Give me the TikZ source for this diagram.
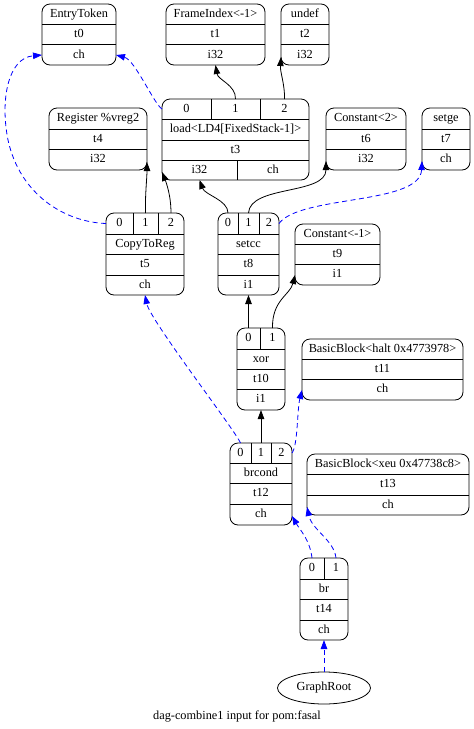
\documentclass[tikz,border=0pt]{standalone}
\usepackage{fontspec}
\setmainfont{Liberation Serif}
\usetikzlibrary{arrows.meta, shapes.geometric}

\tikzset{
  rec/.style={draw, rounded corners=8pt, inner sep=0pt, outer sep=0pt, line width=0.8pt},
  cell/.style={inner sep=0pt, text height=8.6pt, text depth=2.6pt},
  data/.style={line width=0.8pt, -{Triangle[length=9pt,width=6.5pt]}},
  ctrl/.style={data, blue, dash pattern=on 5pt off 3.5pt},
}
% frame of a record: name, left, top, right, bottom
\newcommand{\recframe}[5]{\node[rec, minimum width={(#4-#2)*1pt}, minimum height={(#5-#3)*1pt}] (#1) at ({(#2+#4)/2},{(#3+#5)/2}) {};}
% row line across a record
\newcommand{\rowsep}[2]{\draw[line width=0.8pt] (#1.west |- 0,#2) -- (#1.east |- 0,#2);}
% column line inside a row
\newcommand{\colsep}[3]{\draw[line width=0.8pt] (#1,#2) -- (#1,#3);}

\begin{document}
\begin{tikzpicture}[x=1pt, y=-1pt, font=\fontsize{12.3}{14}\selectfont]
    \useasboundingbox (0,0) rectangle (474,729);

    % t0
    \recframe{entry}{42}{4}{116}{65}
    \rowsep{entry}{24} \rowsep{entry}{44}
    \node[cell] (entry-n) at (79,14) {EntryToken};
    \node[cell] (entry-t) at (79,34) {t0};
    \node[cell] (entry-ch) at (79,55) {ch};

    % t1
    \recframe{fidx}{166}{4}{265}{65}
    \rowsep{fidx}{24} \rowsep{fidx}{44}
    \node[cell] (fidx-n) at (215.5,14) {FrameIndex<-1>};
    \node[cell] (fidx-t) at (215.5,34) {t1};
    \node[cell] (fidx-i32) at (215.5,55) {i32};

    % t2
    \recframe{undef}{281}{4}{329}{65}
    \rowsep{undef}{24} \rowsep{undef}{44}
    \node[cell] (undef-n) at (305,14) {undef};
    \node[cell] (undef-t) at (305,34) {t2};
    \node[cell] (undef-i32) at (305,55) {i32};

    % t3
    \recframe{load}{162}{99}{309}{180}
    \rowsep{load}{119} \rowsep{load}{140} \rowsep{load}{160}
    \colsep{211}{99}{119} \colsep{260}{99}{119} \colsep{237}{160}{180}
    \node[cell] (load-0) at (186.5,109) {0};
    \node[cell] (load-1) at (235.5,109) {1};
    \node[cell] (load-2) at (284.5,109) {2};
    \node[cell] (load-n) at (235.5,129.5) {load<LD4[FixedStack-1]>};
    \node[cell] (load-t) at (235.5,150) {t3};
    \node[cell] (load-i32) at (199.5,170) {i32};
    \node[cell] (load-ch) at (273,170) {ch};

    % t4
    \recframe{reg}{49}{108}{147}{170}
    \rowsep{reg}{129} \rowsep{reg}{149}
    \node[cell] (reg-n) at (98,118.5) {Register \%vreg2};
    \node[cell] (reg-t) at (98,139) {t4};
    \node[cell] (reg-i32) at (98,159.5) {i32};

    % t6
    \recframe{cst}{326}{108}{406}{170}
    \rowsep{cst}{129} \rowsep{cst}{149}
    \node[cell] (cst-n) at (366,118.5) {Constant<2>};
    \node[cell] (cst-t) at (366,139) {t6};
    \node[cell] (cst-i32) at (366,159.5) {i32};

    % t7
    \recframe{cond}{422}{108}{470}{170}
    \rowsep{cond}{129} \rowsep{cond}{149}
    \node[cell] (cond-n) at (446,118.5) {setge};
    \node[cell] (cond-t) at (446,139) {t7};
    \node[cell] (cond-ch) at (446,159.5) {ch};

    % t5
    \recframe{copy}{106}{213}{184}{295}
    \rowsep{copy}{234} \rowsep{copy}{254} \rowsep{copy}{275}
    \colsep{133}{213}{234} \colsep{158}{213}{234}
    \node[cell] (copy-0) at (119.5,223.5) {0};
    \node[cell] (copy-1) at (145.5,223.5) {1};
    \node[cell] (copy-2) at (171,223.5) {2};
    \node[cell] (copy-n) at (145,244) {CopyToReg};
    \node[cell] (copy-t) at (145,264.5) {t5};
    \node[cell] (copy-ch) at (145,285) {ch};

    % t8
    \recframe{setcc}{218}{213}{279}{295}
    \rowsep{setcc}{234} \rowsep{setcc}{254} \rowsep{setcc}{275}
    \colsep{238}{213}{234} \colsep{259}{213}{234}
    \node[cell] (setcc-0) at (228,223.5) {0};
    \node[cell] (setcc-1) at (248.5,223.5) {1};
    \node[cell] (setcc-2) at (269,223.5) {2};
    \node[cell] (setcc-n) at (248.5,244) {setcc};
    \node[cell] (setcc-t) at (248.5,264.5) {t8};
    \node[cell] (setcc-i1) at (248.5,285) {i1};

    % t9
    \recframe{cmone}{295}{224}{380}{285}
    \rowsep{cmone}{244} \rowsep{cmone}{264}
    \node[cell] (cmone-n) at (337.5,234) {Constant<-1>};
    \node[cell] (cmone-t) at (337.5,254) {t9};
    \node[cell] (cmone-i1) at (337.5,274.5) {i1};

    % t10
    \recframe{xor}{237}{328}{285}{410}
    \rowsep{xor}{349} \rowsep{xor}{369} \rowsep{xor}{389}
    \colsep{260.5}{328}{349}
    \node[cell] (xor-0) at (248.5,338.5) {0};
    \node[cell] (xor-1) at (272.5,338.5) {1};
    \node[cell] (xor-n) at (261,359) {xor};
    \node[cell] (xor-t) at (261,379) {t10};
    \node[cell] (xor-i1) at (261,399.5) {i1};

    % t11
    \recframe{halt}{302}{339}{463}{400}
    \rowsep{halt}{359} \rowsep{halt}{379}
    \node[cell] (halt-n) at (382.5,349) {BasicBlock<halt 0x4773978>};
    \node[cell] (halt-t) at (382.5,369) {t11};
    \node[cell] (halt-ch) at (382.5,389.5) {ch};

    % t12
    \recframe{brcond}{230}{443}{292}{525}
    \rowsep{brcond}{463} \rowsep{brcond}{483} \rowsep{brcond}{504}
    \colsep{251}{443}{463} \colsep{271}{443}{463}
    \node[cell] (brcond-0) at (240.5,453) {0};
    \node[cell] (brcond-1) at (261,453) {1};
    \node[cell] (brcond-2) at (281.5,453) {2};
    \node[cell] (brcond-n) at (261,473) {brcond};
    \node[cell] (brcond-t) at (261,493.5) {t12};
    \node[cell] (brcond-ch) at (261,514.5) {ch};

    % t13
    \recframe{xeu}{307}{454}{469}{515}
    \rowsep{xeu}{474} \rowsep{xeu}{495}
    \node[cell] (xeu-n) at (388,464) {BasicBlock<xeu 0x47738c8>};
    \node[cell] (xeu-t) at (388,484.5) {t13};
    \node[cell] (xeu-ch) at (388,505) {ch};

    % t14
    \recframe{br}{300}{558}{348}{640}
    \rowsep{br}{579} \rowsep{br}{599} \rowsep{br}{620}
    \colsep{324}{558}{579}
    \node[cell] (br-0) at (312,568.5) {0};
    \node[cell] (br-1) at (336,568.5) {1};
    \node[cell] (br-n) at (324,589) {br};
    \node[cell] (br-t) at (324,609.5) {t14};
    \node[cell] (br-ch) at (324,630) {ch};

    \node[draw, ellipse, line width=0.8pt, minimum width=93pt, minimum height=32pt, inner sep=0pt] (root) at (324,688) {GraphRoot};
    \node[cell] (title) at (237,716) {dag-combine1 input for pom:fasal};

    % operand edges
    \draw[ctrl] (load.west |- load-0) .. controls (154,104) and (135,60) .. (entry.east |- entry-ch);
    \draw[data] (load.north -| load-1) .. controls (236,85) and (218,80) .. (fidx.south);
    \draw[data] (load.north -| load-2) .. controls (285,85) and (280,72) .. ([yshift=8pt]undef.south west);
    \draw[ctrl] (copy.west |- copy-0) .. controls (65,222) and (20,195) .. (8,140) .. controls (0,100) and (8,58) .. (entry.west |- entry-ch);
    \draw[data] (copy.north -| copy-1) .. controls (145,195) and (147,178) .. ([yshift=8pt]reg.south east);
    \draw[data] (copy.north -| copy-2) .. controls (171,195) and (166,182) .. ([yshift=8pt]load.south west);
    \draw[data] (setcc.north -| setcc-0) .. controls (228,200) and (205,195) .. (load.south -| load-i32);
    \draw[data] (setcc.north -| setcc-1) .. controls (250,185) and (326,195) .. ([yshift=9pt]cst.south west);
    \draw[ctrl] (setcc.east |- setcc-2) .. controls (300,195) and (420,205) .. ([yshift=9pt]cond.south west);
    \draw[data] (xor.north -| xor-0) -- (setcc.south);
    \draw[data] (xor.north -| xor-1) .. controls (272,300) and (290,295) .. ([yshift=10pt]cmone.south west);
    \draw[ctrl] (brcond.north -| brcond-0) .. controls (235,430) and (150,320) .. (copy.south);
    \draw[data] (brcond.north -| brcond-1) -- (xor.south);
    \draw[ctrl] (brcond.east |- brcond-2) .. controls (298,445) and (297,410) .. ([yshift=10pt]halt.south west);
    \draw[ctrl] (br.north -| br-0) .. controls (310,540) and (300,530) .. ([yshift=9pt]brcond.south east);
    \draw[ctrl] (br.north -| br-1) .. controls (334,540) and (312,530) .. ([yshift=8pt]xeu.south west);
    \draw[ctrl] (root.north) -- (br.south);
\end{tikzpicture}
\end{document}
